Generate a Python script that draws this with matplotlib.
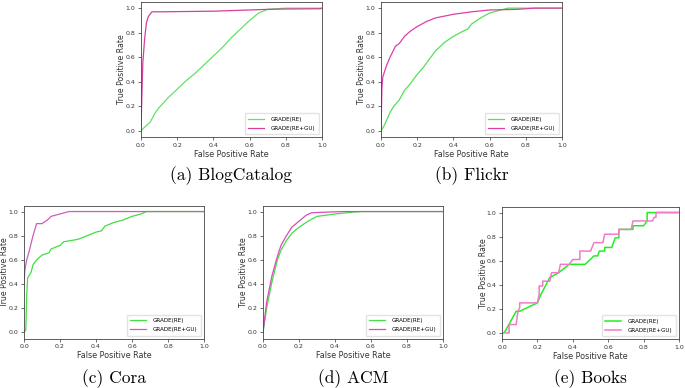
import matplotlib.pyplot as plt
import matplotlib as mpl

mpl.rcParams['font.family'] = 'DejaVu Sans'

# ROC curves: (fpr, tpr) for each dataset
blog_re_x = [0, 0.02, 0.05, 0.08, 0.1, 0.15, 0.2, 0.25, 0.3, 0.35, 0.4, 0.45, 0.5, 0.55, 0.6, 0.65, 0.7, 0.8, 1.0]
blog_re_y = [0, 0.03, 0.07, 0.15, 0.19, 0.27, 0.34, 0.41, 0.47, 0.54, 0.61, 0.68, 0.76, 0.83, 0.90, 0.96, 0.99, 1.0, 1.0]
blog_gu_x = [0, 0.005, 0.01, 0.02, 0.03, 0.04, 0.06, 0.1, 0.4, 0.6, 0.7, 0.8, 0.99, 1.0]
blog_gu_y = [0, 0.3, 0.55, 0.75, 0.88, 0.93, 0.97, 0.97, 0.975, 0.985, 0.99, 0.993, 0.995, 1.0]

flickr_re_x = [0, 0.02, 0.05, 0.07, 0.1, 0.13, 0.16, 0.2, 0.23, 0.27, 0.3, 0.35, 0.4, 0.45, 0.48, 0.5, 0.55, 0.6, 0.65, 0.7, 1.0]
flickr_re_y = [0, 0.05, 0.15, 0.2, 0.25, 0.33, 0.38, 0.46, 0.51, 0.59, 0.65, 0.72, 0.77, 0.81, 0.83, 0.87, 0.92, 0.96, 0.98, 1.0, 1.0]
flickr_gu_x = [0, 0.005, 0.01, 0.03, 0.05, 0.08, 0.1, 0.13, 0.16, 0.2, 0.25, 0.3, 0.4, 0.5, 0.6, 0.75, 0.85, 1.0]
flickr_gu_y = [0, 0.35, 0.44, 0.53, 0.6, 0.69, 0.71, 0.77, 0.81, 0.85, 0.89, 0.92, 0.95, 0.97, 0.985, 0.99, 1.0, 1.0]

cora_re_x = [0, 0.01, 0.015, 0.02, 0.04, 0.05, 0.07, 0.1, 0.14, 0.15, 0.2, 0.22, 0.3, 0.35, 0.4, 0.43, 0.45, 0.5, 0.55, 0.6, 0.65, 0.68, 1.0]
cora_re_y = [0, 0.02, 0.3, 0.45, 0.5, 0.56, 0.6, 0.64, 0.66, 0.69, 0.72, 0.75, 0.77, 0.8, 0.83, 0.84, 0.88, 0.91, 0.93, 0.96, 0.98, 1.0, 1.0]
cora_gu_x = [0, 0.005, 0.015, 0.03, 0.05, 0.07, 0.1, 0.13, 0.15, 0.2, 0.25, 1.0]
cora_gu_y = [0.4, 0.52, 0.6, 0.68, 0.8, 0.9, 0.9, 0.93, 0.96, 0.98, 1.0, 1.0]

acm_re_x = [0, 0.02, 0.05, 0.08, 0.1, 0.13, 0.16, 0.2, 0.25, 0.3, 0.35, 0.4, 0.5, 0.55, 1.0]
acm_re_y = [0, 0.2, 0.42, 0.6, 0.68, 0.76, 0.82, 0.87, 0.92, 0.96, 0.97, 0.98, 0.995, 1.0, 1.0]
acm_gu_x = [0, 0.02, 0.05, 0.08, 0.1, 0.13, 0.16, 0.2, 0.24, 0.27, 0.35, 0.45, 1.0]
acm_gu_y = [0, 0.25, 0.47, 0.63, 0.72, 0.8, 0.87, 0.92, 0.97, 0.99, 0.995, 1.0, 1.0]

books_re_x = [0.01, 0.02, 0.05, 0.08, 0.1, 0.2, 0.22, 0.27, 0.32, 0.38, 0.47, 0.52, 0.54, 0.55, 0.58, 0.58, 0.62, 0.64, 0.66, 0.66, 0.74, 0.74, 0.8, 0.82, 0.82, 1.0]
books_re_y = [0, 0.02, 0.1, 0.18, 0.18, 0.25, 0.32, 0.46, 0.5, 0.57, 0.57, 0.64, 0.64, 0.68, 0.68, 0.71, 0.71, 0.79, 0.79, 0.86, 0.86, 0.89, 0.89, 0.93, 1.0, 1.0]
books_gu_x = [0.02, 0.04, 0.04, 0.08, 0.09, 0.1, 0.1, 0.2, 0.21, 0.21, 0.23, 0.23, 0.27, 0.28, 0.32, 0.33, 0.38, 0.4, 0.44, 0.44, 0.5, 0.52, 0.57, 0.58, 0.66, 0.66, 0.73, 0.74, 0.85, 0.86, 0.87, 0.87, 1.0]
books_gu_y = [0, 0, 0.07, 0.07, 0.18, 0.21, 0.25, 0.25, 0.32, 0.39, 0.39, 0.43, 0.43, 0.5, 0.5, 0.57, 0.57, 0.61, 0.61, 0.68, 0.68, 0.75, 0.75, 0.82, 0.82, 0.86, 0.86, 0.93, 0.93, 0.96, 0.96, 1.0, 1.0]

panels = [
    ('(a) BlogCatalog', blog_re_x, blog_re_y, blog_gu_x, blog_gu_y, '#66e066', '#d4409a', 0.9),
    ('(b) Flickr', flickr_re_x, flickr_re_y, flickr_gu_x, flickr_gu_y, '#55e055', '#dd3fa8', 0.9),
    ('(c) Cora', cora_re_x, cora_re_y, cora_gu_x, cora_gu_y, '#44dd44', '#cf5cb8', 0.9),
    ('(d) ACM', acm_re_x, acm_re_y, acm_gu_x, acm_gu_y, '#44dd44', '#d94cbc', 0.9),
    ('(e) Books', books_re_x, books_re_y, books_gu_x, books_gu_y, '#22ee22', '#f07ac8', 1.1),
]

W, H = 685, 388
# axes boxes in pixels: left, top, right, bottom
boxes = [(141, 2, 322, 137), (381, 2, 562, 137),
         (24, 205.5, 204, 338.5), (263, 205.5, 443, 338.5), (502, 206.5, 679, 339)]
caption_y = [176, 176, 378.5, 378.5, 378.5]

fig = plt.figure(figsize=(6.85, 3.88), dpi=100)
for (title, rx, ry, gx, gy, cg, cm, lw), (l, t, r, b), cy in zip(panels, boxes, caption_y):
    ax = fig.add_axes([l / W, 1 - b / H, (r - l) / W, (b - t) / H])
    ax.plot(rx, ry, color=cg, lw=lw, label='GRADE(RE)')
    ax.plot(gx, gy, color=cm, lw=lw, label='GRADE(RE+GU)')
    ax.set_xlim(0, 1)
    ax.set_ylim(-0.05, 1.05)
    ax.set_xticks([0, 0.2, 0.4, 0.6, 0.8, 1.0])
    ax.set_yticks([0, 0.2, 0.4, 0.6, 0.8, 1.0])
    ax.tick_params(labelsize=4.5, length=2.2, width=0.5, pad=2, colors='#333333')
    for s in ax.spines.values():
        s.set_linewidth(0.6)
        s.set_color('#444444')
    ax.set_xlabel('False Positive Rate', fontsize=5.8, labelpad=1.5, color='#333333')
    ax.set_ylabel('True Positive Rate', fontsize=5.6, color='#333333')
    ax.yaxis.set_label_coords(-14.5 / (r - l), 0.5)
    ax.legend(loc='lower right', fontsize=4.1, frameon=True, handlelength=2.8,
              borderpad=0.6, labelspacing=0.7, fancybox=True, framealpha=0.8,
              edgecolor='#dddddd', handletextpad=1.2)
    fig.text((l + r) / 2 / W, 1 - cy / H, title, ha='center', va='center',
             fontsize=12.5, fontfamily='cmr10')

fig.savefig('out.png', dpi=100)
